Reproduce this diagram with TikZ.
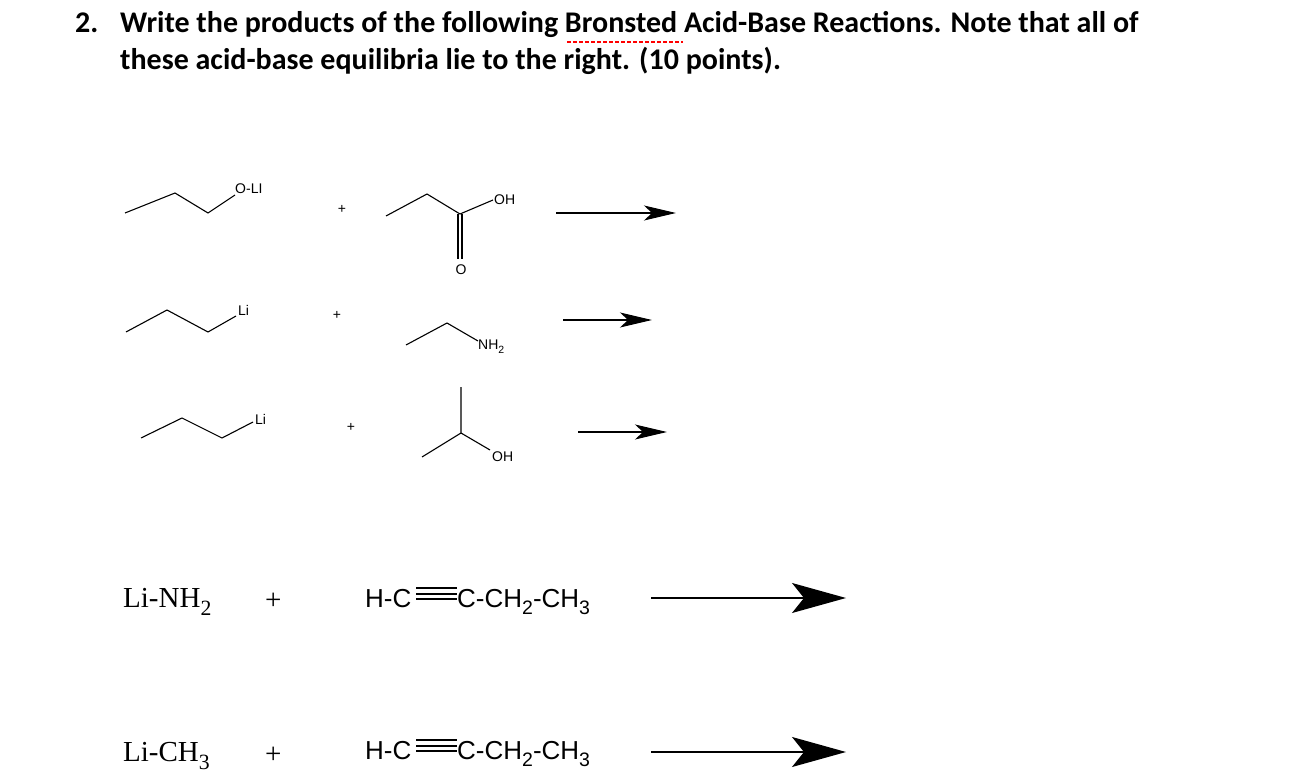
\documentclass[tikz,border=0pt]{standalone}
\usepackage{fontspec}
\setmainfont{Liberation Serif}
\setsansfont{Liberation Sans}
\newfontfamily\titlefont{Carlito}
\usetikzlibrary{arrows.meta}
\newcommand{\chsub}[1]{\raisebox{-0.3em}{\scalebox{0.75}{#1}}}
\begin{document}
\begin{tikzpicture}[x=1pt,y=-1pt,
  bond/.style={line width=1.1pt},
  lab/.style={font=\sffamily\fontsize{14}{14}\selectfont,inner sep=0pt},
  plus/.style={font=\sffamily\fontsize{14}{14}\selectfont,inner sep=0pt},
  rxn/.style={line width=1.3pt,-{Stealth[length=32pt,width=15pt,inset=8pt]}},
  bigrxn/.style={line width=1.5pt,-{Stealth[length=54pt,width=30pt,inset=12pt]}},
  big/.style={font=\fontsize{29}{29}\selectfont,inner sep=0pt,anchor=base west},
  alk/.style={font=\sffamily\fontsize{26}{26}\selectfont,inner sep=0pt,anchor=base west},
  ttl/.style={font=\titlefont\bfseries\fontsize{30}{30}\selectfont,inner sep=0pt,anchor=base west}]
\useasboundingbox (0,0) rectangle (1310,778);
% title
\node[ttl] (n2) at (75,33) {2.};
\node[ttl] (t1) at (120,33) {Write the products of the following Bronsted Acid-Base Reactions. Note that all of};
\node[ttl] (t2) at (120,70) {these acid-base equilibria lie to the right. (10 points).};
\draw[red,line width=2.2pt,dash pattern=on 4pt off 2pt] (567,42) -- (683,42);
% row 1
\coordinate (a1) at (125,213); \coordinate (a2) at (175,193); \coordinate (a3) at (208,213); \coordinate (a4) at (235,195);
\draw[bond] (a1)--(a2)--(a3)--(a4);
\node[lab,anchor=west] (oli) at (235,189) {O-LI};
\node[plus] (p1) at (342,209) {+};
\coordinate (b1) at (386,216); \coordinate (b2) at (427,194); \coordinate (b3) at (460,214); \coordinate (b4) at (493,200); \coordinate (b5) at (460,259);
\draw[bond] (b1)--(b2)--(b3)--(b4);
\draw[bond] ([xshift=-2pt]b3)--([xshift=-2pt]b5);
\draw[bond] ([xshift=2pt]b3)--([xshift=2pt]b5);
\node[lab,anchor=west] (oh1) at (494,200) {OH};
\node[lab] (o1) at (461,270) {O};
\coordinate (r1s) at (556,213); \coordinate (r1e) at (676,213);
\draw[rxn] (r1s)--(r1e);
% row 2
\coordinate (c1) at (126,332); \coordinate (c2) at (167,310); \coordinate (c3) at (208,332); \coordinate (c4) at (236,316);
\draw[bond] (c1)--(c2)--(c3)--(c4);
\node[lab,anchor=west] (li1) at (238,310) {Li};
\node[plus] (p2) at (337,315) {+};
\coordinate (d1) at (406,345); \coordinate (d2) at (447,323); \coordinate (d3) at (478,341);
\draw[bond] (d1)--(d2)--(d3);
\node[lab,anchor=west] (nh2) at (478,347) {NH\chsub{2}};
\coordinate (r2s) at (563,320); \coordinate (r2e) at (652,320);
\draw[rxn] (r2s)--(r2e);
% row 3
\coordinate (e1) at (141,438); \coordinate (e2) at (182,418); \coordinate (e3) at (222,438); \coordinate (e4) at (253,422);
\draw[bond] (e1)--(e2)--(e3)--(e4);
\node[lab,anchor=west] (li2) at (255,419) {Li};
\node[plus] (p3) at (351,427) {+};
\coordinate (f1) at (422,457); \coordinate (f2) at (461,433); \coordinate (f3) at (461,387); \coordinate (f4) at (490,450);
\draw[bond] (f1)--(f2)--(f3); \draw[bond] (f2)--(f4);
\node[lab,anchor=west] (oh2) at (492,457) {OH};
\coordinate (r3s) at (578,432); \coordinate (r3e) at (667,432);
\draw[rxn] (r3s)--(r3e);
% row 4
\node[big] (lnh) at (123,607) {Li-NH\chsub{2}};
\node[big] (p4) at (265,609) {+};
\node[alk] (hc1) at (365,607) {H-C};
\coordinate (tb1s) at (416,588); \coordinate (tb1e) at (457,588);
\foreach \d in {0,5.5,11} \draw[line width=2pt] ([yshift=-\d pt]tb1s)--([yshift=-\d pt]tb1e);
\node[alk] (rest1) at (457,607) {C-CH\chsub{2}-CH\chsub{3}};
\coordinate (r4s) at (651,598); \coordinate (r4e) at (846,598);
\draw[bigrxn] (r4s)--(r4e);
% row 5
\node[big] (lch) at (123,761) {Li-CH\chsub{3}};
\node[big] (p5) at (265,763) {+};
\node[alk] (hc2) at (365,759) {H-C};
\coordinate (tb2s) at (416,740); \coordinate (tb2e) at (457,740);
\foreach \d in {0,5.5,11} \draw[line width=2pt] ([yshift=-\d pt]tb2s)--([yshift=-\d pt]tb2e);
\node[alk] (rest2) at (457,759) {C-CH\chsub{2}-CH\chsub{3}};
\coordinate (r5s) at (651,752); \coordinate (r5e) at (846,752);
\draw[bigrxn] (r5s)--(r5e);
\end{tikzpicture}
\end{document}
